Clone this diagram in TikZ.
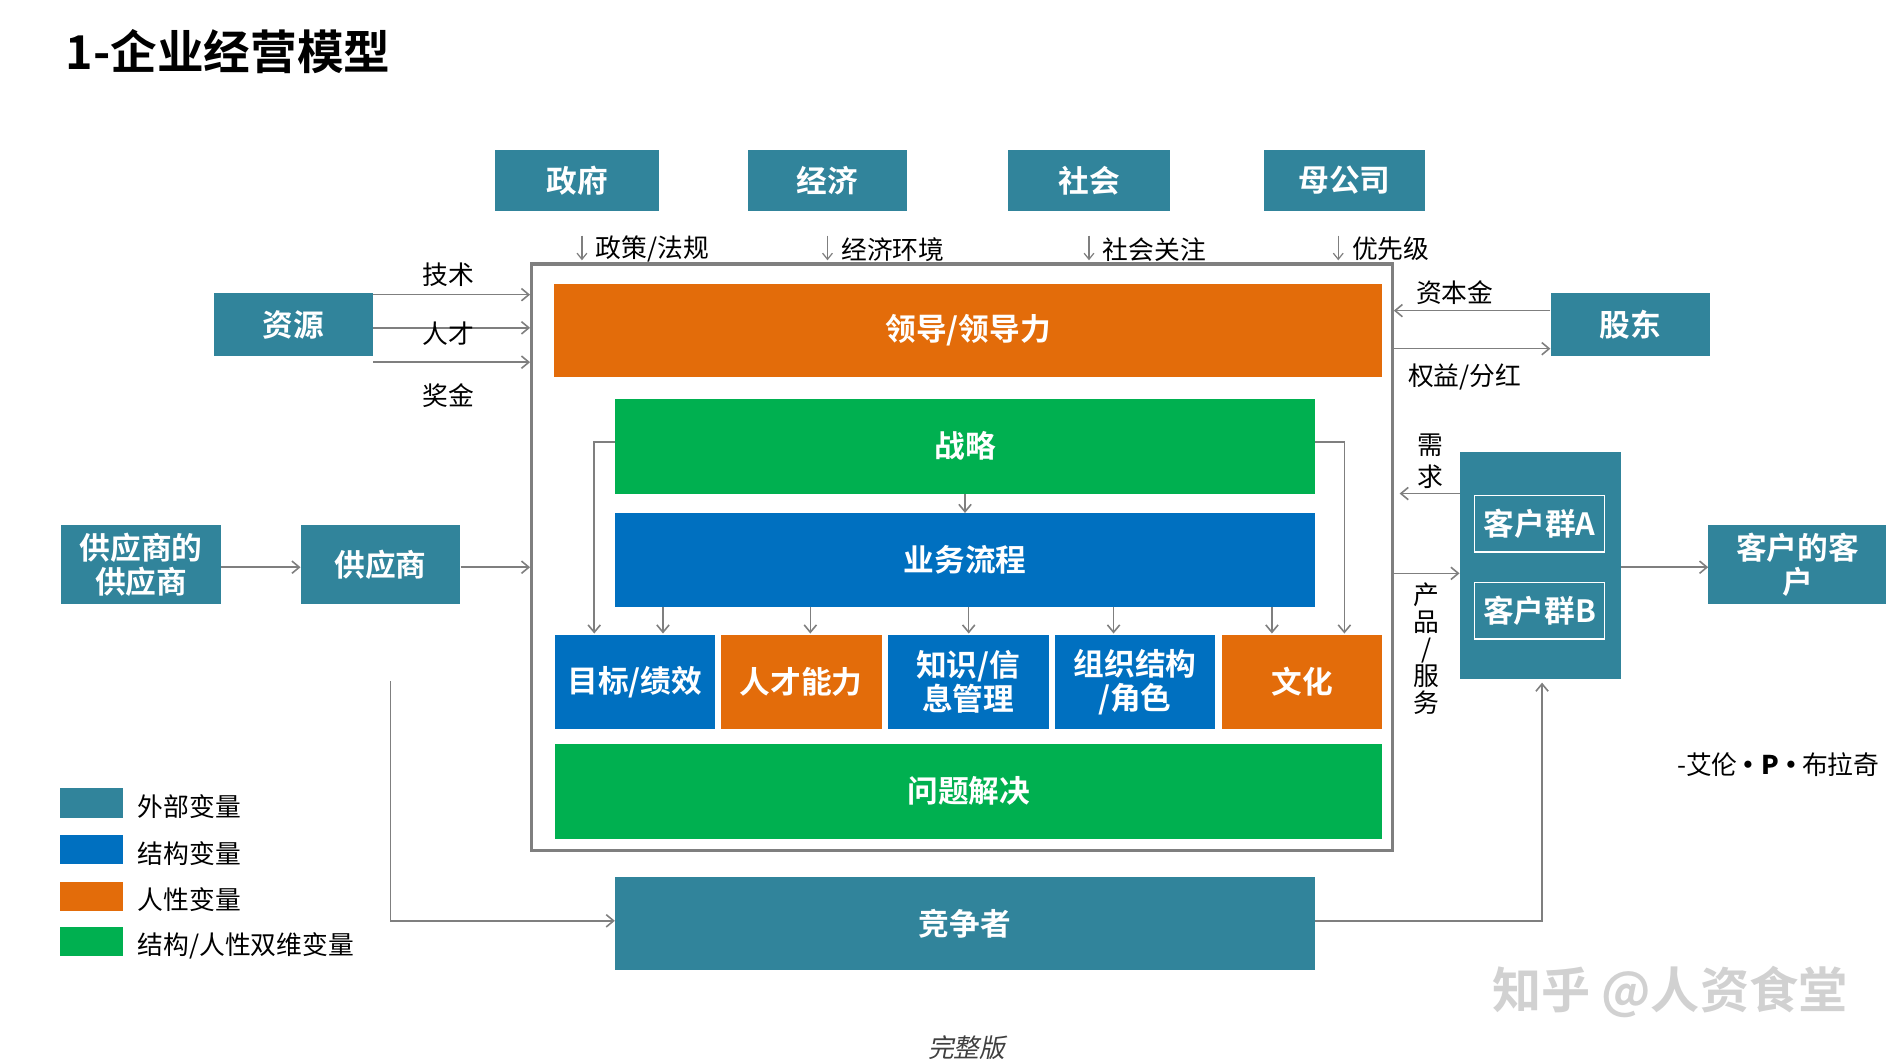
\documentclass[tikz,border=0pt]{standalone}
\usepackage{fontspec}
\setmainfont{Noto Sans CJK SC}
\newfontfamily\cjkb{Noto Sans CJK SC Bold}
\usetikzlibrary{arrows.meta}
\definecolor{cteal}{HTML}{31849B}
\definecolor{corange}{HTML}{E36C0A}
\definecolor{cgreen}{HTML}{00B050}
\definecolor{cblue}{HTML}{0070C0}
\definecolor{cline}{HTML}{7F7F7F}
\begin{document}
\begin{tikzpicture}[x=1pt,y=-1pt,
 bx/.style={fill=#1,text=white,font=\cjkb\fontsize{25}{28}\selectfont,inner sep=0pt,align=center},
 lab/.style={font=\fontsize{21}{24}\selectfont,inner sep=1pt},
 ar/.style={draw=cline,line width=1.3pt,-{Straight Barb[length=6pt,width=10pt]}},
 ln/.style={draw=cline,line width=1.3pt}]
\useasboundingbox (0,0) rectangle (1550,862);
\node[anchor=west,font=\cjkb\fontsize{38}{42}\selectfont] (title) at (50,42) {1-企业经营模型};
% top boxes
\node[bx=cteal,minimum width=133,minimum height=50] (zf) at (470,147) {政府};
\node[bx=cteal,minimum width=130,minimum height=50] (jj) at (674,147) {经济};
\node[bx=cteal,minimum width=132,minimum height=50] (sh) at (887,147) {社会};
\node[bx=cteal,minimum width=131,minimum height=50] (mgs) at (1095,147) {母公司};
\node[bx=cteal,minimum width=130,minimum height=51] (zy) at (239,264.5) {资源};
\node[bx=cteal,minimum width=130,minimum height=51] (gd) at (1328,264.5) {股东};
\node[bx=cteal,minimum width=130,minimum height=64] (gg) at (115,460) {供应商的\\供应商};
\node[bx=cteal,minimum width=130,minimum height=64] (gys) at (310,460) {供应商};
\node[bx=cteal,minimum width=145,minimum height=64] (kk) at (1464,460) {客户的客\\户};
\node[bx=cteal,minimum width=131,minimum height=185] (kh) at (1254.5,460.5) {};
\node[bx=cteal,draw=white,line width=1.2pt,minimum width=106,minimum height=46] (ka) at (1254,426.5) {客户群A};
\node[bx=cteal,draw=white,line width=1.2pt,minimum width=106,minimum height=46] (kb) at (1254,497.5) {客户群B};
% frame
\node[draw=cline,line width=2.5pt,minimum width=701,minimum height=478,inner sep=0pt] (fr) at (783.5,454) {};
\node[bx=corange,minimum width=675,minimum height=76] (ld) at (788.5,269) {领导/领导力};
\node[bx=cgreen,minimum width=570,minimum height=77] (zl) at (786,363.5) {战略};
\node[bx=cblue,minimum width=570,minimum height=76] (yw) at (786,456) {业务流程};
\node[bx=cblue,minimum width=130,minimum height=77] (mb) at (517,555.5) {目标/绩效};
\node[bx=corange,minimum width=131,minimum height=77] (rc) at (652.5,555.5) {人才能力};
\node[bx=cblue,minimum width=131,minimum height=77] (zs) at (788.5,555.5) {知识/信\\息管理};
\node[bx=cblue,minimum width=131,minimum height=77] (zz) at (924.5,555.5) {组织结构\\/角色};
\node[bx=corange,minimum width=131,minimum height=77] (wh) at (1060.5,555.5) {文化};
\node[bx=cgreen,minimum width=674,minimum height=77] (wt) at (789,644.5) {问题解决};
\node[bx=cteal,minimum width=570,minimum height=76] (jz) at (786,752) {竞争者};
% top small arrows
\foreach \x/\t/\n in {474/{政策/法规}/a,674/{经济环境}/b,887/{社会关注}/c,1090/{优先级}/d}{
  \coordinate (s\n) at (\x,192); \coordinate (e\n) at (\x,212);
  \draw[draw=cline,line width=1pt,-{Straight Barb[length=5pt,width=8pt]}] (s\n) -- (e\n);
  \node[lab,anchor=west] at (\x+10,203) {\t};
}
% resources
\foreach \y in {240,267,295}{\draw[ar] (zy.east|-0,\y) -- (fr.west|-0,\y);}
\node[lab] at (365,224) {技术};
\node[lab] at (365,272) {人才};
\node[lab] at (365,322) {奖金};
% shareholders
\draw[ar] (gd.west|-0,253) -- (fr.east|-0,253);
\draw[ar] (fr.east|-0,284) -- (gd.west|-0,284);
\node[lab] at (1185,238) {资本金};
\node[lab] at (1193,307) {权益/分红};
% customers
\draw[ar] (kh.west|-0,402) -- (1140,402);
\node[lab,align=center,font=\fontsize{21}{26}\selectfont] at (1165,376) {需\\求};
\draw[ar] (fr.east|-0,467) -- (kh.west|-0,467);
\node[lab,align=center,font=\fontsize{21}{22}\selectfont] at (1162,528) {产\\品\\/\\服\\务};
\draw[ar] (kh.east|-0,462) -- (kk.west|-0,462);
% suppliers
\draw[ar] (gg.east|-0,462) -- (gys.west|-0,462);
\draw[ar] (gys.east|-0,462) -- (fr.west|-0,462);
% internal
\draw[ar] (zl.south) -- (yw.north);
\foreach \x in {540,660,789,907,1036}{\draw[ar] (\x,494) -- (\x,516);}
\draw[ar] (zl.west|-0,360) -- (484,360) -- (484,516);
\draw[ar] (zl.east|-0,360) -- (1095,360) -- (1095,516);
% competitor
\coordinate (c1) at (318,555);
\draw[ar] (c1) -- (318,750) -- (jz.west|-0,750);
\draw[ar] (jz.east|-0,750) -- (1256,750) -- (1256,556);
% legend
\foreach \y/\c/\t in {654/cteal/{外部变量},692/cblue/{结构变量},730/corange/{人性变量},767/cgreen/{结构/人性双维变量}}{
  \node[fill=\c,minimum width=51,minimum height=24,inner sep=0pt] at (74.5,\y) {};
  \node[lab,anchor=west] at (111,\y+3) {\t};
}
\node[lab,anchor=east] at (1532,623) {-艾伦\hspace{-2pt}\textbf{•P•}\hspace{-2pt}布拉奇};
\node[font=\cjkb\fontsize{40}{44}\selectfont,text=black!18] at (1360,808) {知乎 @人资食堂};
\node[lab,text=black!75,xslant=0.2] at (789,853) {完整版};
\end{tikzpicture}
\end{document}
